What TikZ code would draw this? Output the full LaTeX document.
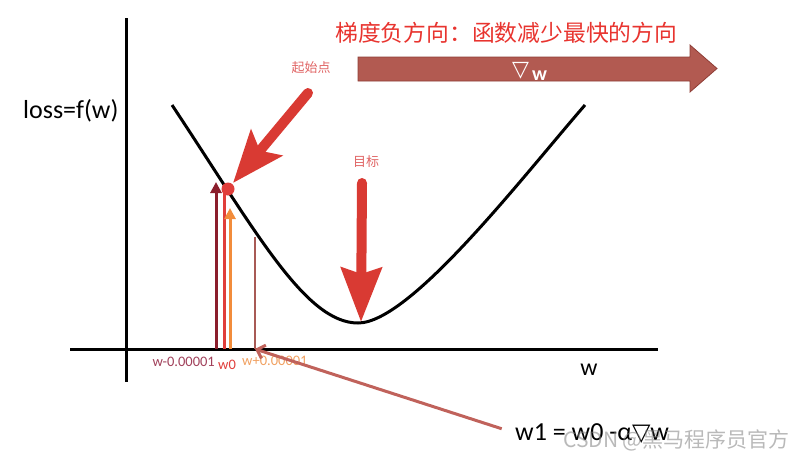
\documentclass[tikz,border=0pt]{standalone}
\usepackage{fontspec}
\setmainfont{Carlito}
\newfontfamily\cjk{Noto Sans CJK SC}
\newfontfamily\symfont{DejaVu Sans}
\usepackage{xcolor}
\usepackage{tikz}
\usetikzlibrary{arrows.meta, positioning}

\definecolor{arrowred}{HTML}{D93A33}
\definecolor{titlered}{HTML}{E8342F}
\definecolor{notepink}{HTML}{E06464}
\definecolor{gradfill}{HTML}{B25A51}
\definecolor{graddraw}{HTML}{8E3D36}
\definecolor{darkred}{HTML}{8B1E2C}
\definecolor{midred}{HTML}{E03E3B}
\definecolor{probeorange}{HTML}{F28C3B}
\definecolor{probebrown}{HTML}{A85A55}
\definecolor{pointer}{HTML}{C0625B}
\definecolor{minuscol}{HTML}{A0405A}
\definecolor{pluscol}{HTML}{F0A060}

\begin{document}
\begin{tikzpicture}[
    x=1pt, y=-1pt,
    axisline/.style={line width=3pt, black},
    lossline/.style={line width=3pt, black},
    bigarrow/.style={line width=10pt, draw=arrowred, line cap=round,
                     -{Stealth[length=52pt, width=40pt, inset=10pt]}},
    probe/.style={line width=3pt, -{Triangle[length=11pt, width=11pt]}},
    ticklabel/.style={font=\fontsize{14.5}{14.5}\selectfont, inner sep=0pt},
    note/.style={font=\cjk\fontsize{13}{13}\selectfont, text=notepink, inner sep=0pt},
]
\useasboundingbox (0,0) rectangle (792,458);

%% Axes
\coordinate (ytop) at (126,18);
\coordinate (ybot) at (126,382);
\coordinate (xleft) at (70,349);
\coordinate (xright) at (658,349);
\draw[axisline] (ytop) -- (ybot);
\draw[axisline] (xleft) -- (xright);
\node[anchor=base west, inner sep=0pt, font=\fontsize{26}{26}\selectfont] (ylabel) at (23,118) {loss=f(w)};
\node[inner sep=0pt, font=\fontsize{24}{24}\selectfont] (xlabel) at (589,370) {w};

%% Loss curve
\draw[lossline] (172,105) .. controls (255,230) and (305,323) .. (358,323)
                          .. controls (410,323) and (520,180) .. (585,105);

%% Gradient direction
\node[anchor=west, inner sep=0pt, text=titlered, font=\cjk\fontsize{22.8}{22.8}\selectfont]
    (title) at (335,33) {梯度负方向：函数减少最快的方向};
\filldraw[fill=gradfill, draw=graddraw, line width=0.8pt]
    (358,57) -- (690,57) -- (690,45) -- (717,68.5) -- (690,92) -- (690,81) -- (358,81) -- cycle;
\node[anchor=base west, inner sep=0pt, text=white] (gradlabel) at (512,80)
    {\raisebox{4pt}{\symfont\fontsize{22}{22}\selectfont ▽}\hspace{3pt}{\fontsize{20}{20}\selectfont\bfseries w}};

%% Probes at w-0.00001, w0, w+0.00001
\coordinate (xm) at (216,349);
\coordinate (ym) at (216,182);
\coordinate (x0) at (224,349);
\coordinate (y0) at (224,192);
\coordinate (xo) at (230,349);
\coordinate (yo) at (230,208);
\coordinate (xp) at (255,349);
\coordinate (yp) at (255,237);
\draw[probe, darkred] (xm) -- (ym);
\draw[line width=3pt, midred] (x0) -- (y0);
\draw[probe, probeorange] (xo) -- (yo);
\draw[line width=1.5pt, probebrown] (xp) -- (yp);
\node[circle, fill=midred, minimum size=13pt, inner sep=0pt] (start) at (228,189) {};

\node[ticklabel, text=minuscol, anchor=east] (lminus) at (215,362) {w-0.00001};
\node[ticklabel, text=midred] (lzero) at (227,365) {w0};
\node[ticklabel, text=pluscol, anchor=west] (lplus) at (242,361) {w+0.00001};

%% Start point and target
\node[note] (startnote) at (311,68) {起始点};
\coordinate (starttail) at (308,93);
\coordinate (starttip) at (233,183);
\draw[bigarrow] (starttail) -- (starttip);

\node[note] (goalnote) at (366,162) {目标};
\coordinate (goaltail) at (362,183);
\coordinate (goaltip) at (361,322);
\draw[bigarrow, -{Stealth[length=54pt, width=40pt, inset=6pt]}] (goaltail) -- (goaltip);

%% Update rule
\node[anchor=base west, inner sep=0pt, font=\fontsize{26}{26}\selectfont] (update) at (515,440)
    {w1 = w0 -α{\symfont\fontsize{24}{24}\selectfont ▽}w};
\draw[line width=3pt, pointer, shorten <=14pt, -{Straight Barb[length=7pt, width=14pt]}]
    (update.west) -- (xp);

%% Watermark
\node[anchor=base west, inner sep=0pt, text=gray, opacity=0.55, font=\cjk\fontsize{21}{21}\selectfont]
    (mark) at (563,447) {CSDN @黑马程序员官方};
\end{tikzpicture}
\end{document}
